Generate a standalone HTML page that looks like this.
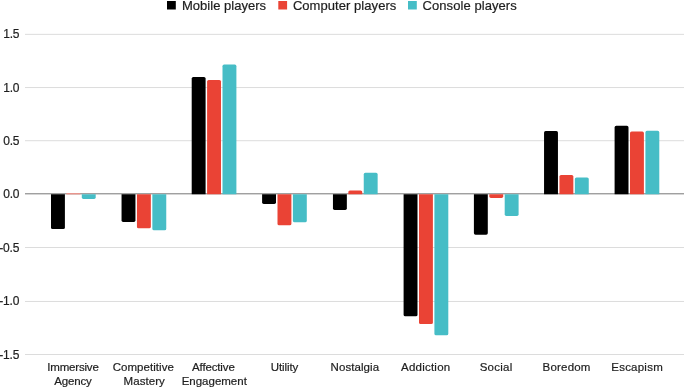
<!DOCTYPE html><html><head><meta charset="utf-8"><title>chart</title><style>html,body{margin:0;padding:0;background:#fff}svg{display:block}text{font-family:"Liberation Sans",sans-serif;fill:#1e1e1e;stroke:#1e1e1e;stroke-width:0.2px}</style></head><body>
<svg width="685" height="388" viewBox="0 0 685 388">
<rect width="685" height="388" fill="#fff"/>
<rect x="25" y="33.85" width="659" height="1" fill="#dcdcdc"/>
<rect x="25" y="87.05" width="659" height="1" fill="#dcdcdc"/>
<rect x="25" y="140.20" width="659" height="1" fill="#dcdcdc"/>
<rect x="25" y="247.00" width="659" height="1" fill="#dcdcdc"/>
<rect x="25" y="300.95" width="659" height="1" fill="#dcdcdc"/>
<rect x="25" y="354.00" width="659" height="1" fill="#dcdcdc"/>
<rect x="25" y="193.10" width="659" height="1.3" fill="#969696"/>
<path d="M51.00,194.20V227.50Q51.00,229.10 52.60,229.10H63.30Q64.90,229.10 64.90,227.50V194.20Z" fill="#000000"/>
<rect x="66.40" y="193.10" width="13.9" height="1.3" fill="#f0948b"/>
<path d="M81.80,194.20V197.30Q81.80,198.90 83.40,198.90H94.10Q95.70,198.90 95.70,197.30V194.20Z" fill="#46bdc6"/>
<path d="M121.55,194.20V220.30Q121.55,221.90 123.15,221.90H133.85Q135.45,221.90 135.45,220.30V194.20Z" fill="#000000"/>
<path d="M136.95,194.20V226.70Q136.95,228.30 138.55,228.30H149.25Q150.85,228.30 150.85,226.70V194.20Z" fill="#ea4335"/>
<path d="M152.35,194.20V228.70Q152.35,230.30 153.95,230.30H164.65Q166.25,230.30 166.25,228.70V194.20Z" fill="#46bdc6"/>
<path d="M191.70,194.20V78.60Q191.70,77.00 193.30,77.00H204.00Q205.60,77.00 205.60,78.60V194.20Z" fill="#000000"/>
<path d="M207.10,194.20V81.60Q207.10,80.00 208.70,80.00H219.40Q221.00,80.00 221.00,81.60V194.20Z" fill="#ea4335"/>
<path d="M222.50,194.20V66.20Q222.50,64.60 224.10,64.60H234.80Q236.40,64.60 236.40,66.20V194.20Z" fill="#46bdc6"/>
<path d="M262.10,194.20V202.30Q262.10,203.90 263.70,203.90H274.40Q276.00,203.90 276.00,202.30V194.20Z" fill="#000000"/>
<path d="M277.50,194.20V223.70Q277.50,225.30 279.10,225.30H289.80Q291.40,225.30 291.40,223.70V194.20Z" fill="#ea4335"/>
<path d="M292.90,194.20V220.70Q292.90,222.30 294.50,222.30H305.20Q306.80,222.30 306.80,220.70V194.20Z" fill="#46bdc6"/>
<path d="M332.95,194.20V208.30Q332.95,209.90 334.55,209.90H345.25Q346.85,209.90 346.85,208.30V194.20Z" fill="#000000"/>
<path d="M348.35,194.20V192.00Q348.35,190.40 349.95,190.40H360.65Q362.25,190.40 362.25,192.00V194.20Z" fill="#ea4335"/>
<path d="M363.75,194.20V174.40Q363.75,172.80 365.35,172.80H376.05Q377.65,172.80 377.65,174.40V194.20Z" fill="#46bdc6"/>
<path d="M403.60,194.20V314.70Q403.60,316.30 405.20,316.30H415.90Q417.50,316.30 417.50,314.70V194.20Z" fill="#000000"/>
<path d="M419.00,194.20V322.50Q419.00,324.10 420.60,324.10H431.30Q432.90,324.10 432.90,322.50V194.20Z" fill="#ea4335"/>
<path d="M434.40,194.20V333.70Q434.40,335.30 436.00,335.30H446.70Q448.30,335.30 448.30,333.70V194.20Z" fill="#46bdc6"/>
<path d="M473.90,194.20V233.10Q473.90,234.70 475.50,234.70H486.20Q487.80,234.70 487.80,233.10V194.20Z" fill="#000000"/>
<path d="M489.30,194.20V196.30Q489.30,197.90 490.90,197.90H501.60Q503.20,197.90 503.20,196.30V194.20Z" fill="#ea4335"/>
<path d="M504.70,194.20V214.30Q504.70,215.90 506.30,215.90H517.00Q518.60,215.90 518.60,214.30V194.20Z" fill="#46bdc6"/>
<path d="M544.05,194.20V132.60Q544.05,131.00 545.65,131.00H556.35Q557.95,131.00 557.95,132.60V194.20Z" fill="#000000"/>
<path d="M559.45,194.20V176.50Q559.45,174.90 561.05,174.90H571.75Q573.35,174.90 573.35,176.50V194.20Z" fill="#ea4335"/>
<path d="M574.85,194.20V179.00Q574.85,177.40 576.45,177.40H587.15Q588.75,177.40 588.75,179.00V194.20Z" fill="#46bdc6"/>
<path d="M614.60,194.20V127.40Q614.60,125.80 616.20,125.80H626.90Q628.50,125.80 628.50,127.40V194.20Z" fill="#000000"/>
<path d="M630.00,194.20V133.20Q630.00,131.60 631.60,131.60H642.30Q643.90,131.60 643.90,133.20V194.20Z" fill="#ea4335"/>
<path d="M645.40,194.20V132.40Q645.40,130.80 647.00,130.80H657.70Q659.30,130.80 659.30,132.40V194.20Z" fill="#46bdc6"/>
<text x="19.4" y="38" font-size="12" text-anchor="end" textLength="16.08" lengthAdjust="spacing">1.5</text>
<text x="19.4" y="92" font-size="12" text-anchor="end" textLength="16.08" lengthAdjust="spacing">1.0</text>
<text x="19.4" y="145" font-size="12" text-anchor="end" textLength="16.08" lengthAdjust="spacing">0.5</text>
<text x="19.4" y="198" font-size="12" text-anchor="end" textLength="16.08" lengthAdjust="spacing">0.0</text>
<text x="19.4" y="252" font-size="12" text-anchor="end" textLength="20.08" lengthAdjust="spacing">-0.5</text>
<text x="19.4" y="305" font-size="12" text-anchor="end" textLength="20.08" lengthAdjust="spacing">-1.0</text>
<text x="19.4" y="359" font-size="12" text-anchor="end" textLength="20.08" lengthAdjust="spacing">-1.5</text>
<text x="73.05" y="371" font-size="11.5" text-anchor="middle" textLength="51.53" lengthAdjust="spacing">Immersive</text>
<text x="73.00" y="385" font-size="11.5" text-anchor="middle" textLength="37.56" lengthAdjust="spacing">Agency</text>
<text x="143.30" y="371" font-size="11.5" text-anchor="middle" textLength="61.22" lengthAdjust="spacing">Competitive</text>
<text x="144.20" y="385" font-size="11.5" text-anchor="middle" textLength="41.20" lengthAdjust="spacing">Mastery</text>
<text x="213.40" y="371" font-size="11.5" text-anchor="middle" textLength="42.79" lengthAdjust="spacing">Affective</text>
<text x="214.25" y="385" font-size="11.5" text-anchor="middle" textLength="65.22" lengthAdjust="spacing">Engagement</text>
<text x="284.50" y="371" font-size="11.5" text-anchor="middle" textLength="27.41" lengthAdjust="spacing">Utility</text>
<text x="354.80" y="371" font-size="11.5" text-anchor="middle" textLength="48.54" lengthAdjust="spacing">Nostalgia</text>
<text x="425.60" y="371" font-size="11.5" text-anchor="middle" textLength="49.21" lengthAdjust="spacing">Addiction</text>
<text x="496.00" y="371" font-size="11.5" text-anchor="middle" textLength="32.62" lengthAdjust="spacing">Social</text>
<text x="566.50" y="371" font-size="11.5" text-anchor="middle" textLength="47.86" lengthAdjust="spacing">Boredom</text>
<text x="637.00" y="371" font-size="11.5" text-anchor="middle" textLength="51.45" lengthAdjust="spacing">Escapism</text>
<rect x="167" y="1" width="8.8" height="8.5" fill="#000000"/>
<text x="182.0" y="10" font-size="13" textLength="84.11" lengthAdjust="spacing">Mobile players</text>
<rect x="278.3" y="1" width="8.8" height="8.5" fill="#ea4335"/>
<text x="292.9" y="10" font-size="13" textLength="103.40" lengthAdjust="spacing">Computer players</text>
<rect x="408" y="1" width="8.8" height="8.5" fill="#46bdc6"/>
<text x="422.5" y="10" font-size="13" textLength="94.22" lengthAdjust="spacing">Console players</text>
</svg></body></html>
